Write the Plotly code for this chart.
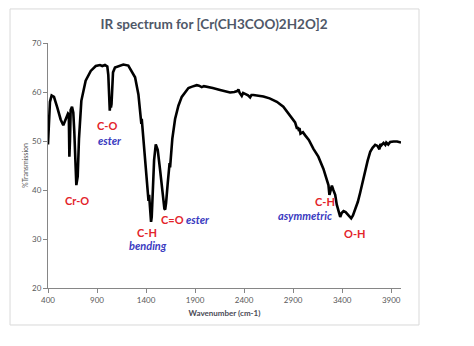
import plotly.graph_objects as go

wavenumber = [400, 410, 420, 437, 461, 495, 529, 556, 584, 604, 612, 618, 624, 631, 645, 658, 668, 676, 689, 703,
              716, 740, 784, 836, 887, 930, 954, 981, 1005, 1015, 1022, 1030, 1036, 1042, 1048, 1055, 1063, 1083,
              1120, 1168, 1219, 1253, 1288, 1322, 1340, 1349, 1352, 1356, 1362, 1373, 1400, 1417, 1425, 1431, 1441,
              1451, 1458, 1465, 1482, 1499, 1519, 1543, 1566, 1587, 1595, 1604, 1621, 1635, 1640, 1645, 1650, 1668,
              1696, 1730, 1764, 1800, 1832, 1870, 1917, 1940, 1968, 1990, 2019, 2080, 2155, 2257, 2300, 2330, 2342,
              2355, 2376, 2390, 2410, 2440, 2461, 2475, 2495, 2540, 2597, 2660, 2734, 2800, 2870, 2920, 2940, 2948,
              2955, 2965, 2975, 2989, 3000, 3021, 3060, 3107, 3157, 3209, 3240, 3260, 3270, 3280, 3295, 3310, 3329,
              3345, 3363, 3380, 3395, 3414, 3435, 3455, 3475, 3492, 3510, 3533, 3560, 3584, 3610, 3635, 3660, 3686,
              3710, 3737, 3760, 3780, 3790, 3800, 3822, 3840, 3850, 3870, 3890, 3924, 3960, 4000]
transmission = [49.3, 54.5, 58.0, 59.3, 59.0, 56.8, 54.4, 53.2, 54.8, 55.6, 55.4, 46.8, 50.0, 56.3, 57.0, 55.8, 52.0,
                46.5, 41.0, 42.8, 50.5, 58.2, 62.3, 64.3, 65.3, 65.5, 65.3, 65.5, 65.2, 63.5, 60.5, 56.2, 58.0, 56.8,
                57.6, 60.0, 64.0, 65.0, 65.3, 65.6, 65.4, 64.2, 63.0, 59.5, 56.5, 55.2, 53.5, 54.5, 53.0, 49.8, 44.1,
                39.3, 37.8, 39.0, 36.6, 33.5, 34.5, 38.0, 46.1, 49.3, 48.2, 44.1, 39.3, 36.2, 36.0, 37.3, 41.4, 44.2,
                45.5, 44.6, 46.5, 50.5, 54.5, 57.2, 59.0, 60.1, 60.8, 61.1, 61.4, 61.3, 61.0, 61.2, 61.1, 60.8, 60.4,
                59.9, 60.0, 60.2, 60.5, 59.8, 59.2, 59.8, 59.6, 59.3, 58.9, 59.4, 59.4, 59.3, 59.1, 58.7, 58.0, 57.0,
                55.2, 53.8, 52.5, 52.8, 52.4, 52.6, 51.5, 51.6, 51.8, 51.2, 50.2, 48.4, 46.8, 44.3, 42.5, 41.0, 39.0,
                39.8, 40.9, 40.0, 39.0, 37.0, 35.4, 34.5, 35.3, 35.7, 35.5, 35.1, 34.7, 34.2, 34.8, 36.0, 37.6, 39.5,
                41.8, 43.8, 46.0, 47.8, 48.6, 49.2, 49.0, 48.3, 49.4, 49.1, 49.6, 49.2, 49.7, 49.3, 49.8, 49.9, 49.9,
                49.7]

x_ticks = [400, 900, 1400, 1900, 2400, 2900, 3400, 3900]
y_ticks = [20, 30, 40, 50, 60, 70]

label_text = ["Cr-O", "C-O", "<i>ester</i>", "C-H", "<i>bending</i>", "C=O", "<i>ester</i>", "C-H",
              "<i>asymmetric</i>", "O-H"]
label_x = [696, 1002, 1033, 1410, 1420, 1665, 1931, 3227, 3023, 3522]
label_y = [37.8, 53.1, 50.2, 31.3, 28.7, 33.9, 33.9, 37.6, 34.8, 31.2]
label_kind = ["red", "red", "blue", "red", "blue", "red", "blue", "red", "blue", "red"]

RED = "#e3242b"
BLUE = "#3a3abf"
FONT = "Lato"

fig = go.Figure()
fig.add_trace(go.Scatter(x=wavenumber, y=transmission, mode="lines",
                         line=dict(color="black", width=2.6), showlegend=False, hoverinfo="skip"))

for t, x, y, k in zip(label_text, label_x, label_y, label_kind):
    fig.add_annotation(x=x, y=y, text="<b>" + t + "</b>", showarrow=False,
                       font=dict(family=FONT, size=11, color=RED if k == "red" else BLUE),
                       xanchor="center", yanchor="middle")

fig.add_shape(type="rect", xref="paper", yref="paper", x0=-0.1076, x1=1.051, y0=-0.151, y1=1.139,
              line=dict(color="#d9d9d9", width=1), fillcolor="rgba(0,0,0,0)", layer="below")

fig.update_layout(
    width=474, height=346,
    margin=dict(l=48, r=73, t=43, b=58),
    paper_bgcolor="white", plot_bgcolor="white",
    font=dict(family=FONT, color="#595959"),
    title=dict(text="<b>IR spectrum for [Cr(CH3COO)2H2O]2</b>", x=214 / 474, xanchor="center",
               y=1 - 24 / 346, yanchor="middle", font=dict(family=FONT, size=13.5, color="#4f5868")),
    xaxis=dict(range=[400, 4000], tickvals=x_ticks, showline=True, linecolor="#868686", linewidth=1,
               ticks="outside", ticklen=4, tickcolor="#868686", showgrid=False, zeroline=False,
               tickfont=dict(size=8, color="#595959"),
               title=dict(text="<b>Wavenumber (cm-1)</b>", font=dict(size=8, color="#4a4a55"), standoff=6)),
    yaxis=dict(range=[20, 70], tickvals=y_ticks, showline=True, linecolor="#868686", linewidth=1,
               ticks="outside", ticklen=4, tickcolor="#868686", showgrid=False, zeroline=False,
               tickfont=dict(size=8, color="#595959"),
               title=dict(text="%Transmission", font=dict(size=7, color="#595959"), standoff=2)),
)

fig.write_html("out.html")
